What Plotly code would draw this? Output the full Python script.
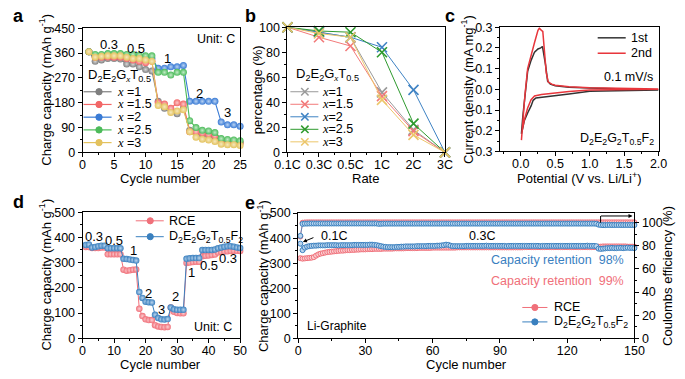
import plotly.graph_objects as go

W, H = 685, 379
FONT = "Liberation Sans, Arial, sans-serif"


def fx(p):
    return p / W


def fy(p):
    return 1 - p / H


# ---------------- data ----------------
# panel a : charge capacity vs cycle for D2E2GxT0.5
cycles_a = list(range(1, 26))
a_labels = ["<span style=\"font-family:Liberation Serif;font-style:italic\">x</span> =1",
            "<span style=\"font-family:Liberation Serif;font-style:italic\">x</span> =1.5",
            "<span style=\"font-family:Liberation Serif;font-style:italic\">x</span> =2",
            "<span style=\"font-family:Liberation Serif;font-style:italic\">x</span> =2.5",
            "<span style=\"font-family:Liberation Serif;font-style:italic\">x</span> =3"]
a_x1 = [365, 330, 335, 340, 340, 338, 320, 320, 310, 300, 295, 185, 160, 155, 140, 160, 80, 70, 65, 60, 55, 40, 38, 35, 35]
a_x15 = [365, 345, 345, 346, 345, 345, 340, 335, 330, 325, 330, 180, 175, 160, 180, 175, 75, 75, 70, 65, 60, 45, 40, 38, 35]
a_x2 = [365, 350, 352, 355, 355, 355, 350, 345, 345, 340, 340, 305, 305, 310, 310, 315, 185, 185, 185, 185, 185, 110, 100, 100, 95]
a_x25 = [365, 355, 355, 358, 358, 358, 355, 355, 352, 350, 350, 290, 290, 280, 290, 290, 115, 90, 80, 78, 72, 50, 47, 45, 42]
a_x3 = [365, 345, 348, 350, 350, 350, 345, 340, 340, 335, 330, 170, 165, 145, 150, 155, 75, 55, 48, 45, 40, 30, 28, 28, 25]
a_rate_text = ["0.3", "0.5", "1", "2", "3"]

# panel b : capacity percentage vs rate
rates_b = ["0.1C", "0.3C", "0.5C", "1C", "2C", "3C"]
b_labels = ["<span style=\"font-family:Liberation Serif;font-style:italic\">x</span>=1",
            "<span style=\"font-family:Liberation Serif;font-style:italic\">x</span>=1.5",
            "<span style=\"font-family:Liberation Serif;font-style:italic\">x</span>=2",
            "<span style=\"font-family:Liberation Serif;font-style:italic\">x</span>=2.5",
            "<span style=\"font-family:Liberation Serif;font-style:italic\">x</span>=3"]
b_x1 = [100, 96, 92, 48, 18, 0]
b_x15 = [100, 92, 85, 45, 17, 0]
b_x2 = [100, 96, 92, 84, 50, 0]
b_x25 = [100, 97, 96, 80, 23, 0]
b_x3 = [100, 95, 92, 42, 14, 0]

# panel c : CV curves
c1_v = [2.0, 1.5, 1.0, 0.7, 0.5, 0.3, 0.22, 0.18, 0.15, 0.1, 0.07, 0.05, 0.02, 0.01,
        0.03, 0.05, 0.1, 0.15, 0.2, 0.25, 0.29, 0.315, 0.34, 0.36, 0.39, 0.43, 0.5, 0.7, 1.0, 1.5, 2.0]
c1_i = [-0.003, -0.006, -0.009, -0.022, -0.031, -0.037, -0.042, -0.053, -0.08, -0.114, -0.14, -0.153, -0.2, -0.215,
        -0.13, -0.068, 0.087, 0.14, 0.18, 0.195, 0.2, 0.207, 0.165, 0.118, 0.04, 0.025, 0.017, 0.01, 0.006, 0.002, -0.003]
c2_v = [2.0, 1.5, 1.0, 0.7, 0.5, 0.3, 0.2, 0.15, 0.1, 0.07, 0.05, 0.02, 0.01,
        0.03, 0.06, 0.1, 0.15, 0.2, 0.25, 0.27, 0.3, 0.32, 0.34, 0.37, 0.4, 0.45, 0.5, 0.7, 1.0, 1.5, 2.0]
c2_i = [0.0, 0.0, -0.003, -0.01, -0.016, -0.025, -0.032, -0.05, -0.09, -0.12, -0.15, -0.2, -0.245,
        -0.12, -0.03, 0.1, 0.17, 0.226, 0.285, 0.295, 0.285, 0.28, 0.2, 0.08, 0.035, 0.025, 0.02, 0.013, 0.008, 0.004, 0.002]
c_labels = ["1st", "2nd"]

# panel d : rate performance RCE vs D2E2G2T0.5F2
cycles_d = list(range(1, 51))
d_rce = [362, 362, 358, 358, 358, 360, 360,
         333, 333, 333, 333, 333,
         272, 268, 270, 272, 273,
         117, 88, 75, 72, 72,
         52, 47, 45, 44, 45,
         122, 105, 100, 99, 99,
         298, 300, 302, 303, 303,
         325, 327, 328, 330, 332,
         340, 342, 344, 345, 346, 347, 347, 346]
d_new = [370, 372, 360, 362, 365, 367, 367,
         357, 357, 357, 357, 357,
         315, 314, 312, 310, 308,
         183, 160, 145, 143, 142,
         93, 80, 75, 74, 76,
         122, 115, 113, 113, 113,
         315, 317, 318, 318, 318,
         350, 350, 350, 350, 352,
         357, 360, 363, 365, 365, 363, 360, 358]
d_rate_text = ["0.3", "0.5", "1", "2", "3", "2", "1", "0.5", "0.3"]
series_names = ["RCE", "D<sub>2</sub>E<sub>2</sub>G<sub>2</sub>T<sub>0.5</sub>F<sub>2</sub>"]

# panel e : long cycling (capacity and coulombic efficiency)
cycles_e = list(range(1, 151))
e_new_cap = [
    378, 352, 362, 366, 368, 369, 370, 370, 371, 371,
    371, 371, 372, 372, 372, 372, 372, 371, 372, 372,
    372, 372, 372, 372, 373, 373, 373, 373, 373, 373,
    373, 374, 374, 373, 372, 370, 368, 366, 365, 364,
    364, 364, 364, 365, 365, 366, 366, 367, 367, 367,
    367, 367, 368, 368, 368, 368, 368, 369, 369, 369,
    369, 370, 370, 371, 372, 374, 373, 370, 368, 368,
    368, 368, 368, 368, 369, 369, 369, 369, 369, 369,
    369, 369, 369, 370, 369, 369, 369, 369, 369, 369,
    369, 369, 368, 369, 369, 369, 369, 369, 369, 369,
    369, 369, 369, 369, 369, 369, 369, 368, 369, 369,
    369, 369, 369, 369, 369, 369, 369, 369, 369, 369,
    369, 369, 369, 369, 369, 369, 369, 369, 370, 369,
    369, 369, 368, 358, 357, 358, 359, 360, 360, 361,
    360, 360, 361, 361, 360, 361, 362, 361, 361, 360]
e_rce_cap = [
    320, 318, 319, 320, 321, 322, 324, 330, 335, 338,
    340, 342, 344, 345, 346, 347, 348, 349, 350, 350,
    351, 352, 352, 353, 353, 354, 354, 355, 355, 355,
    356, 356, 356, 357, 357, 357, 357, 358, 358, 358,
    358, 358, 359, 359, 359, 359, 359, 360, 360, 360,
    360, 360, 360, 361, 361, 361, 361, 361, 361, 362,
    362, 362, 362, 362, 362, 362, 362, 362, 362, 362,
    363, 363, 363, 363, 363, 363, 363, 363, 363, 363,
    363, 363, 363, 363, 363, 363, 363, 363, 363, 363,
    363, 363, 363, 363, 363, 363, 363, 363, 363, 363,
    364, 364, 364, 364, 364, 364, 364, 364, 364, 364,
    364, 364, 364, 364, 364, 364, 364, 364, 364, 364,
    364, 364, 364, 364, 364, 364, 364, 364, 364, 364,
    364, 364, 365, 366, 366, 367, 367, 367, 367, 367,
    367, 367, 367, 367, 367, 367, 366, 366, 366, 366]
e_new_ce = [
    88.6, 99.0, 99.2, 99.2, 99.3, 99.3, 99.3, 99.3, 99.3, 99.3,
    99.3, 99.3, 99.3, 99.3, 99.3, 99.3, 99.3, 99.3, 99.3, 99.3,
    99.3, 99.3, 99.3, 99.3, 99.3, 99.3, 99.3, 99.3, 99.3, 99.3,
    99.3, 99.3, 99.3, 99.3, 99.3, 99.0, 99.1, 99.2, 99.2, 99.2,
    99.2, 99.2, 99.2, 99.2, 99.2, 99.2, 99.2, 99.2, 99.2, 99.2,
    99.2, 99.2, 99.2, 99.2, 99.2, 99.2, 99.2, 99.2, 99.2, 99.2,
    99.2, 99.2, 99.2, 99.2, 99.2, 99.2, 99.2, 99.2, 99.2, 99.2,
    99.2, 99.2, 99.2, 99.2, 99.2, 99.2, 99.2, 99.2, 99.2, 99.2,
    99.2, 99.2, 99.2, 99.2, 99.2, 99.2, 99.2, 99.2, 99.2, 99.2,
    99.2, 99.2, 99.2, 99.2, 99.2, 99.2, 99.2, 99.2, 99.2, 99.2,
    99.2, 99.2, 99.2, 99.2, 99.2, 99.2, 99.2, 99.2, 99.2, 99.2,
    99.2, 99.2, 99.2, 99.2, 99.2, 99.2, 99.2, 99.2, 99.2, 99.2,
    99.2, 99.2, 99.2, 99.2, 99.2, 99.2, 99.2, 99.2, 99.2, 99.2,
    99.2, 99.2, 99.1, 98.3, 98.0, 97.9, 97.9, 98.0, 98.0, 98.0,
    98.0, 98.0, 98.0, 98.0, 98.0, 98.0, 98.0, 98.0, 98.0, 98.0]
e_rce_ce = [
    88.0, 100.0, 100.2, 100.3, 100.3, 100.3, 100.3, 100.3, 100.3, 100.3,
    100.3, 100.3, 100.3, 100.3, 100.3, 100.3, 100.3, 100.3, 100.3, 100.3,
    100.3, 100.3, 100.3, 100.3, 100.3, 100.3, 100.3, 100.3, 100.3, 100.3,
    100.3, 100.3, 100.3, 100.3, 100.3, 100.3, 100.3, 100.3, 100.3, 100.3,
    100.3, 100.3, 100.3, 100.3, 100.3, 100.3, 100.3, 100.3, 100.3, 100.3,
    100.3, 100.3, 100.3, 100.3, 100.3, 100.3, 100.3, 100.3, 100.3, 100.3,
    100.3, 100.3, 100.3, 100.3, 100.3, 100.3, 100.3, 100.3, 100.3, 100.3,
    100.3, 100.3, 100.3, 100.3, 100.3, 100.3, 100.3, 100.3, 100.3, 100.3,
    100.3, 100.3, 100.3, 100.3, 100.3, 100.3, 100.3, 100.3, 100.3, 100.3,
    100.3, 100.3, 100.3, 100.3, 100.3, 100.3, 100.3, 100.3, 100.3, 100.3,
    100.3, 100.3, 100.3, 100.3, 100.3, 100.3, 100.3, 100.3, 100.3, 100.3,
    100.3, 100.3, 100.3, 100.3, 100.3, 100.3, 100.3, 100.3, 100.3, 100.3,
    100.3, 100.3, 100.3, 100.3, 100.3, 100.3, 100.3, 100.3, 100.3, 100.3,
    100.3, 100.3, 100.3, 100.3, 100.3, 100.3, 100.3, 100.3, 100.3, 100.3,
    100.3, 100.3, 100.3, 100.3, 100.3, 100.3, 100.3, 100.3, 100.3, 100.3]
e_retention = ["98%", "99%"]

# ---------------- styles ----------------
a_colors = ["#7f7f7f", "#f26767", "#3a7bd5", "#4cbb5a", "#e3c25e"]
a_light = ["#d8d8d8", "#fbc9c9", "#b9d3f3", "#c2ebc7", "#f6e8bd"]
b_colors = ["#9a9a9a", "#f27a7a", "#3f83c4", "#2e9a2e", "#ecc66a"]
c_colors = ["#333333", "#e8363c"]
de_colors = ["#f0707a", "#3a80bf"]
de_light = ["#fbd0d3", "#bcd6ee"]

fig = go.Figure()

# panel a traces
for ys, col, lc, nm in zip([a_x1, a_x15, a_x2, a_x25, a_x3], a_colors, a_light, a_labels):
    fig.add_trace(go.Scatter(
        x=cycles_a, y=ys, mode="lines+markers", name=nm, showlegend=False,
        line=dict(color=col, width=1.1),
        marker=dict(size=7, color=col, gradient=dict(type="radial", color=lc), line=dict(width=0)),
        cliponaxis=False, xaxis="x", yaxis="y"))

# panel b traces
b_idx = list(range(len(rates_b)))
for ys, col, nm in zip([b_x1, b_x15, b_x2, b_x25, b_x3], b_colors, b_labels):
    fig.add_trace(go.Scatter(
        x=b_idx, y=ys, mode="lines+markers", name=nm, showlegend=False,
        line=dict(color=col, width=1),
        marker=dict(symbol="x-thin", size=10, color=col, line=dict(color=col, width=1.6)),
        cliponaxis=False, xaxis="x2", yaxis="y2"))

# panel c traces
for xs, ys, col, nm in zip([c1_v, c2_v], [c1_i, c2_i], c_colors, c_labels):
    fig.add_trace(go.Scatter(
        x=xs, y=ys, mode="lines", name=nm, showlegend=False,
        line=dict(color=col, width=1.5), xaxis="x3", yaxis="y3"))

# panel d traces
for ys, col, lc, nm in zip([d_rce, d_new], de_colors, de_light, series_names):
    fig.add_trace(go.Scatter(
        x=cycles_d, y=ys, mode="lines+markers", name=nm, showlegend=False,
        line=dict(color=col, width=1),
        marker=dict(size=6.5, color=col, gradient=dict(type="radial", color=lc), line=dict(width=0)),
        cliponaxis=False, xaxis="x4", yaxis="y4"))

# panel e traces
for cap, ce, col, lc, nm in zip([e_rce_cap, e_new_cap], [e_rce_ce, e_new_ce], de_colors, de_light, series_names):
    fig.add_trace(go.Scatter(
        x=cycles_e, y=cap, mode="lines+markers", name=nm, showlegend=False,
        line=dict(color=col, width=0.8),
        marker=dict(size=5, color=lc, line=dict(color=col, width=1)),
        cliponaxis=False, xaxis="x5", yaxis="y5"))
    fig.add_trace(go.Scatter(
        x=cycles_e, y=ce, mode="lines+markers", name=nm, showlegend=False,
        line=dict(color=col, width=0.8),
        marker=dict(size=5, color=lc, line=dict(color=col, width=1)),
        cliponaxis=False, xaxis="x5", yaxis="y6"))


# ---------------- axes ----------------
def ax(**kw):
    d = dict(showline=True, linecolor="black", linewidth=1, mirror=True,
             ticks="outside", ticklen=4, tickwidth=1, tickcolor="black",
             showgrid=False, zeroline=False,
             tickfont=dict(family=FONT, size=12.5, color="black"))
    d.update(kw)
    return d


def xax(**kw):
    return ax(ticklabelstandoff=-3, **kw)


def mn(dt):
    return dict(ticks="outside", ticklen=2, tickwidth=1, tickcolor="black", dtick=dt, showgrid=False)


c_yticks = [-0.3, -0.2, -0.1, 0.0, 0.1, 0.2, 0.3]
c_yticktext = ["-0.3", "-0.2", "-0.1", "0.0", "0.1", "0.2", "0.3"]

fig.update_layout(
    xaxis=xax(domain=[fx(72), fx(235)], range=[0, 25], dtick=5, minor=mn(2.5), anchor="y"),
    yaxis=ax(domain=[fy(151), fy(22)], range=[0, 450], dtick=90, minor=mn(45), anchor="x"),
    xaxis2=xax(domain=[fx(284), fx(447)], range=[0, 5], tickmode="array", tickvals=b_idx, ticktext=rates_b,
               minor=dict(ticks="outside", ticklen=2, tickcolor="black", tick0=0.5, dtick=1), anchor="y2"),
    yaxis2=ax(domain=[fy(151), fy(21)], range=[0, 100], dtick=20, minor=mn(10), anchor="x2"),
    xaxis3=xax(domain=[fx(504), fx(668)], range=[-0.3, 2.0], tick0=0, dtick=0.5, tickformat=".1f",
               minor=dict(ticks="outside", ticklen=2, tickcolor="black", tick0=0, dtick=0.25), anchor="y3"),
    yaxis3=ax(domain=[fy(150), fy(21)], range=[-0.3, 0.3], tickmode="array", tickvals=c_yticks,
              ticktext=c_yticktext, minor=dict(ticks="outside", ticklen=2, tickcolor="black", tick0=0, dtick=0.05),
              anchor="x3"),
    xaxis4=xax(domain=[fx(72), fx(235)], range=[0, 50], dtick=10, minor=mn(5), anchor="y4"),
    yaxis4=ax(domain=[fy(344), fy(213)], range=[0, 500], dtick=100, minor=mn(50), anchor="x4"),
    xaxis5=xax(domain=[fx(295), fx(643)], range=[0, 150], dtick=30, minor=mn(15), anchor="y5"),
    yaxis5=ax(domain=[fy(344), fy(214)], range=[0, 500], dtick=100, minor=mn(50), anchor="x5", mirror=False),
    yaxis6=ax(domain=[fy(344), fy(214)], range=[0, 108.3], dtick=20, minor=mn(10), anchor="x5",
              overlaying="y5", side="right", mirror=False),
)

# ---------------- annotations ----------------
ann = []


def txt(x, y, s, size=12.5, color="black", xanchor="center", angle=0, bold=False):
    if bold:
        s = "<b>" + s + "</b>"
    ann.append(dict(x=fx(x), y=fy(y), xref="paper", yref="paper", text=s, showarrow=False,
                    xanchor=xanchor, yanchor="middle", textangle=angle,
                    font=dict(family=FONT, size=size, color=color)))


# panel letters
for lab, x, y in [("a", 6, 9), ("b", 246, 9), ("c", 452, 9), ("d", 6, 202), ("e", 245, 203)]:
    txt(x, y, lab, size=18, bold=True)

cap_title = "Charge capacity (mAh g<sup>-1</sup>)"
# axis titles
txt(33, 86, cap_title, size=13, angle=-90)
txt(153, 178, "Cycle number", size=13)
txt(253, 86, "percentage (%)", size=13, angle=-90)
txt(365, 178, "Rate", size=13)
txt(470, 86, "Current density (mA mg<sup>-1</sup>)", size=13, angle=-90)
txt(586, 178, "Potential (V vs. Li/Li<sup>+</sup>)", size=13)
txt(33, 278, cap_title, size=13, angle=-90)
txt(153, 371, "Cycle number", size=13)
txt(258, 279, cap_title, size=13, angle=-90)
txt(677, 279, "Coulombs efficiency (%)", size=13, angle=-90)
txt(469, 371, "Cycle number", size=13)

# panel a in-plot text
for s, x, y in zip(a_rate_text, [99, 127, 160, 193, 222], [39, 43, 53, 90, 110]):
    txt(x, y, s, size=13)
txt(210, 33, "Unit: C", size=12.5)

# panel c in-plot text
txt(637, 73, "0.1 mV/s", size=12.5)
txt(665, 137, "D<sub>2</sub>E<sub>2</sub>G<sub>2</sub>T<sub>0.5</sub>F<sub>2</sub>", size=12.5, xanchor="right")

# panel d in-plot text
for s, x, y in zip(d_rate_text, [84, 105, 125, 140, 154, 168, 185, 203, 222],
                   [238, 242, 253, 297, 314, 301, 276, 268, 261]):
    txt(x, y, s, size=13)
txt(207, 332, "Unit: C", size=12.5)

# panel e in-plot text
txt(332, 238, "0.1C", size=12.5)
txt(485, 238, "0.3C", size=12.5)
txt(634, 263, "Capacity retention\u00a0\u00a0" + e_retention[0], size=12.5, color=de_colors[1], xanchor="right")
txt(634, 284, "Capacity retention\u00a0\u00a0" + e_retention[1], size=12.5, color=de_colors[0], xanchor="right")
txt(302, 331, "Li-Graphite", size=12, xanchor="left")

# arrows in e (offsets in pixels)
ann.append(dict(x=fx(300), y=fy(244), xref="paper", yref="paper", ax=12, ay=-5,
                text="", showarrow=True, arrowhead=2,
                arrowsize=0.8, arrowwidth=1, arrowcolor="black"))
ann.append(dict(x=fx(641), y=fy(217), xref="paper", yref="paper", ax=-33, ay=0,
                text="", showarrow=True, arrowhead=2,
                arrowsize=0.8, arrowwidth=1, arrowcolor="black"))

shapes = [dict(type="line", xref="paper", yref="paper", x0=fx(608), x1=fx(608), y0=fy(224), y1=fy(217),
               line=dict(color="black", width=1))]


# ---------------- custom legends ----------------
def leg_line(x0, x1, y, col, width=1.2):
    shapes.append(dict(type="line", xref="paper", yref="paper", x0=fx(x0), x1=fx(x1), y0=fy(y), y1=fy(y),
                       line=dict(color=col, width=width)))


def leg_dot(x, y, r, col, edge=None):
    shapes.append(dict(type="circle", xref="paper", yref="paper", x0=fx(x - r), x1=fx(x + r),
                       y0=fy(y + r), y1=fy(y - r), fillcolor=col,
                       line=dict(color=edge or col, width=1)))


def leg_x(x, y, r, col):
    shapes.append(dict(type="path", xref="paper", yref="paper",
                       path="M {a} {b} L {c} {d} M {a} {d} L {c} {b}".format(
                           a=fx(x - r), b=fy(y - r), c=fx(x + r), d=fy(y + r)),
                       line=dict(color=col, width=1.5)))


# legend a
txt(76, 71, "D<sub>2</sub>E<sub>2</sub>G<sub><span style=\"font-family:Liberation Serif;font-style:italic\">x</span></sub>T<sub>0.5</sub>",
    size=13, xanchor="left")
for i, (col, lab) in enumerate(zip(a_colors, a_labels)):
    y = 88 + 13.2 * i
    leg_line(73, 102, y, col)
    leg_dot(89, y, 3.3, col)
    txt(106, y, lab, size=12.5, xanchor="left")

# legend b
txt(291, 70, "D<sub>2</sub>E<sub>2</sub>G<sub><span style=\"font-family:Liberation Serif;font-style:italic\">x</span></sub>T<sub>0.5</sub>",
    size=13, xanchor="left")
for i, (col, lab) in enumerate(zip(b_colors, b_labels)):
    y = 88 + 13 * i
    leg_line(287, 316, y, col, 1)
    leg_x(302, y, 3.8, col)
    txt(318, y, lab, size=12.5, xanchor="left")

# legend c
for i, (col, lab) in enumerate(zip(c_colors, c_labels)):
    y = 32 + 16 * i
    leg_line(605, 634, y, col, 1.5)
    txt(637, y, lab, size=12.5, xanchor="left")

# legend d
for i, (col, lab) in enumerate(zip(de_colors, series_names)):
    y = 222 + 16.5 * i
    leg_line(127, 156, y, col, 1)
    leg_dot(142, y, 3.2, col)
    txt(159, y, lab, size=12.5, xanchor="left")

# legend e
for i, (col, lab) in enumerate(zip(de_colors, series_names)):
    y = 312 + 15 * i
    leg_line(527, 553, y, col, 1)
    leg_dot(540, y, 3.2, col)
    txt(558, y, lab, size=12.5, xanchor="left")

fig.update_layout(
    width=W, height=H, margin=dict(l=0, r=0, t=0, b=0),
    paper_bgcolor="white", plot_bgcolor="white",
    annotations=ann, shapes=shapes, showlegend=False,
    font=dict(family=FONT, size=12, color="black"),
)

fig.write_html("out.html", config={"displayModeBar": False},
               post_script="document.body.style.margin='0px';document.body.style.overflow='hidden';")
